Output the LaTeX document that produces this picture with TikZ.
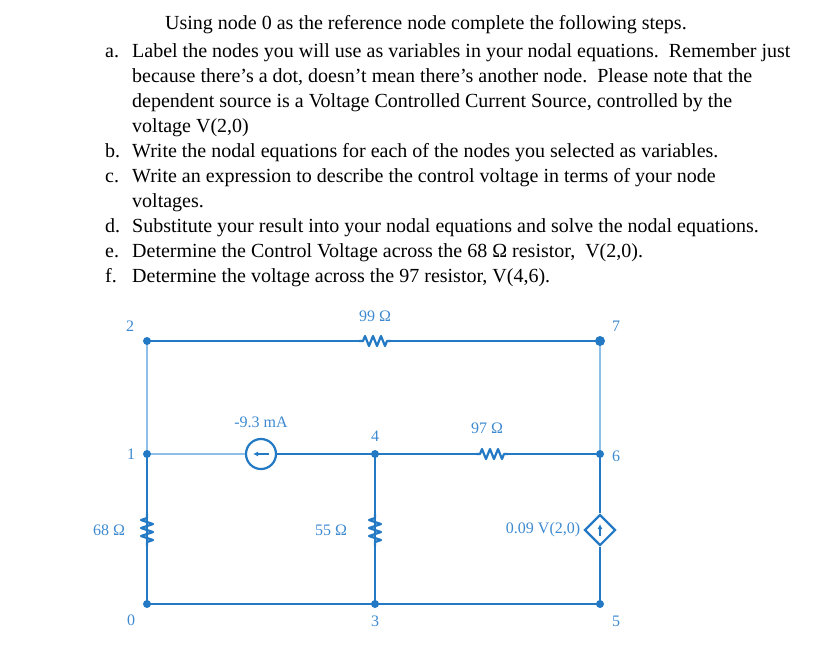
\documentclass[tikz,border=0pt]{standalone}
\usepackage{fontspec}
\setmainfont{Liberation Serif}
\usetikzlibrary{shapes.geometric,arrows.meta}
\definecolor{wd}{HTML}{2379C4}
\definecolor{wl}{HTML}{8DBFE8}
\definecolor{lb}{HTML}{3D8AD0}
\begin{document}
\begin{tikzpicture}[x=1pt,y=-1pt,
  tl/.style={anchor=base west,inner sep=0,font=\fontsize{20}{24}\selectfont},
  cl/.style={text=lb,inner sep=1pt,font=\fontsize{16}{18}\selectfont},
  wire/.style={draw=wd,line width=2.4pt},
  lwire/.style={draw=wl,line width=2.4pt},
  dot/.style={circle,fill=wd,inner sep=0,minimum size=8pt},
  pics/resh/.style={code={\draw[wd,line width=2.2pt,line join=round] (-16,0)--(-12,0)--(-10,-5)--(-6,5)--(-2,-5)--(2,5)--(6,-5)--(10,5)--(12,0)--(16,0);}},
  pics/resv/.style={code={\draw[wd,line width=2.2pt,line join=round] (0,-16)--(0,-12)--(-6,-10)--(6,-6)--(-6,-2)--(6,2)--(-6,6)--(6,10)--(0,12)--(0,16);}}]
\useasboundingbox (0,0) rectangle (832,657);
\node[tl] (t0) at (165,29) {Using node 0 as the reference node complete the following steps.};
\node[tl] (la) at (105,57) {a.};
\node[tl] (ta1) at (132,57) {Label the nodes you will use as variables in your nodal equations.\ \ Remember just};
\node[tl] (ta2) at (132,82) {because there’s a dot, doesn’t mean there’s another node.\ \ Please note that the};
\node[tl] (ta3) at (132,107) {dependent source is a Voltage Controlled Current Source, controlled by the};
\node[tl] (ta4) at (132,132) {voltage V(2,0)};
\node[tl] (lb) at (105,157) {b.};
\node[tl] (tb) at (132,157) {Write the nodal equations for each of the nodes you selected as variables.};
\node[tl] (lc) at (105,182) {c.};
\node[tl] (tc1) at (132,182) {Write an expression to describe the control voltage in terms of your node};
\node[tl] (tc2) at (132,207) {voltages.};
\node[tl] (ld) at (105,232) {d.};
\node[tl] (td) at (132,232) {Substitute your result into your nodal equations and solve the nodal equations.};
\node[tl] (le) at (105,257) {e.};
\node[tl] (te) at (132,257) {Determine the Control Voltage across the 68 Ω resistor,\ \ V(2,0).};
\node[tl] (lf) at (105,282) {f.};
\node[tl] (tf) at (132,282) {Determine the voltage across the 97 resistor, V(4,6).};
% nodes
\coordinate (n2) at (147,341); \coordinate (n7) at (600,341);
\coordinate (n1) at (147,454); \coordinate (n4) at (375,454); \coordinate (n6) at (600,454);
\coordinate (n0) at (147,604); \coordinate (n3) at (375,604); \coordinate (n5) at (600,604);
\coordinate (r99) at (375,341); \coordinate (r97) at (492,454);
\coordinate (r68) at (147,530); \coordinate (r55) at (375,530);
\node[circle,draw=wd,line width=2.2pt,minimum size=30pt,inner sep=0] (cs) at (261,454) {};
\node[diamond,draw=wd,line width=2.2pt,minimum size=31pt,inner sep=0] (ds) at (600,530) {};
% wires
\draw[lwire] (n2)--(n1) (n1)--(cs.west) (n7)--(n6);
\draw[wire] (n2)--([xshift=-16]r99) ([xshift=16]r99)--(n7);
\draw[wire] (cs.east)--(n4)--([xshift=-16]r97) ([xshift=16]r97)--(n6);
\draw[wire] (n1)--([yshift=-16]r68) ([yshift=16]r68)--(n0)--(n3)--(n5);
\draw[wire] (n4)--([yshift=-16]r55) ([yshift=16]r55)--(n3);
\draw[wire] (n6)--(ds.north) (ds.south)--(n5);
\pic at (r99) {resh}; \pic at (r97) {resh};
\pic at (r68) {resv}; \pic at (r55) {resv};
\draw[wd,line width=1.8pt,-{Latex[length=5pt,width=5pt]}] ([xshift=8]cs.center)--([xshift=-8]cs.center);
\draw[wd,line width=1.8pt,-{Latex[length=5pt,width=5pt]}] ([yshift=-6]ds.center)--([yshift=6]ds.center);
\foreach \p in {n2,n1,n4,n6,n0,n3,n5} \node[dot] at (\p) {};
\node[dot,minimum size=10pt] at (n7) {};
% labels
\node[cl] (l2) at (130,326) {2}; \node[cl] (l7) at (616,326) {7};
\node[cl] (l1) at (131,454) {1}; \node[cl] (l4) at (375,436) {4}; \node[cl] (l6) at (616,456) {6};
\node[cl] (l0) at (131,620) {0}; \node[cl] (l3) at (375,621) {3}; \node[cl] (l5) at (616,621) {5};
\node[cl] (l99) at (375,316) {99 Ω}; \node[cl] (l97) at (487,428) {97 Ω};
\node[cl] (lcs) at (261,422) {-9.3 mA};
\node[cl] (l68) at (109,530) {68 Ω}; \node[cl] (l55) at (331,530) {55 Ω};
\node[cl,anchor=east] (ldep) at ([xshift=-2]ds.west) {0.09 V(2,0)};
\end{tikzpicture}
\end{document}
